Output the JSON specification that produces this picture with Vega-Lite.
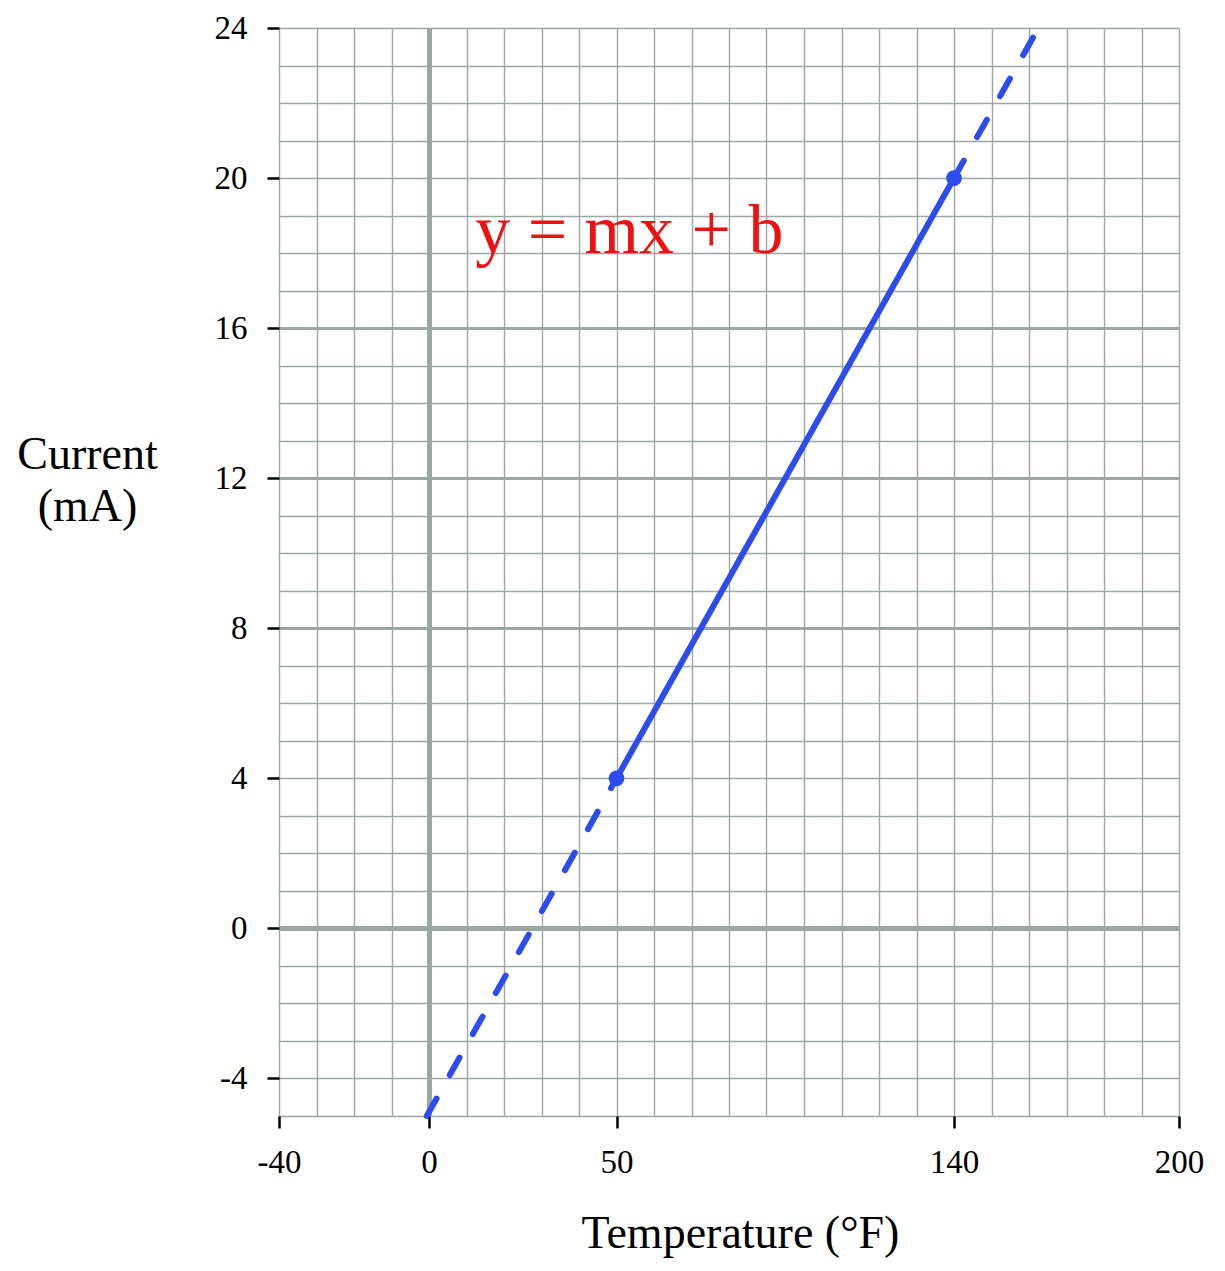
{
  "$schema": "https://vega.github.io/schema/vega-lite/v6.json",
  "width": 900,
  "height": 1088,
  "autosize": "none",
  "padding": {"left": 279, "top": 28, "right": 46, "bottom": 155},
  "background": "white",
  "config": {
    "view": {"stroke": null},
    "font": "Liberation Serif",
    "axis": {
      "labelFont": "Liberation Serif",
      "titleFont": "Liberation Serif",
      "labelColor": "black",
      "titleColor": "black",
      "labelFontSize": 33,
      "titleFontSize": 46,
      "titleFontWeight": "normal",
      "domain": false,
      "gridColor": "#9ba7a5",
      "gridOpacity": 1,
      "tickColor": "black",
      "tickWidth": 2.5,
      "tickSize": 12,
      "tickCount": 200
    }
  },
  "datasets": {
    "calibration": [
      {"temp": -0.6, "current": -5, "seg": "low", "kind": "extrapolated", "pt": false},
      {"temp": 50, "current": 4, "seg": "low", "kind": "extrapolated", "pt": false},
      {"temp": 50, "current": 4, "seg": "span", "kind": "measured", "pt": true},
      {"temp": 140, "current": 20, "seg": "span", "kind": "measured", "pt": true},
      {"temp": 140, "current": 20, "seg": "high", "kind": "extrapolated", "pt": false},
      {"temp": 162.5, "current": 24, "seg": "high", "kind": "extrapolated", "pt": false}
    ],
    "note": [
      {"temp": 12.3, "current": 18.0, "text": "y = mx + b"}
    ]
  },
  "layer": [
    {
      "data": {"name": "calibration"},
      "mark": {"type": "line", "color": "#2d4cf0", "strokeWidth": 6, "strokeCap": "round"},
      "encoding": {
        "x": {
          "field": "temp",
          "type": "quantitative",
          "scale": {"domain": [-40, 200], "nice": false, "zero": false},
          "axis": {
            "title": "Temperature (°F)",
            "values": [-40, -30, -20, -10, 0, 10, 20, 30, 40, 50, 60, 70, 80, 90, 100, 110, 120, 130, 140, 150, 160, 170, 180, 190, 200],
            "tickCount": 200,
            "labelExpr": "indexof([-40, 0, 50, 140, 200], datum.value) >= 0 ? '' + datum.value : ''",
            "labelPadding": 18,
            "labelFlush": false,
            "labelOverlap": false,
            "tickOpacity": {"condition": {"test": "indexof([-40, 0, 50, 140, 200], datum.value) >= 0", "value": 1}, "value": 0},
            "gridWidth": {"condition": {"test": "datum.value === 0", "value": 5}, "value": 1.4},
            "titleX": 461,
            "titleY": 131,
            "titleAlign": "center",
            "titleBaseline": "alphabetic"
          }
        },
        "y": {
          "field": "current",
          "type": "quantitative",
          "scale": {"domain": [-5, 24], "nice": false, "zero": false},
          "axis": {
            "title": ["Current", "(mA)"],
            "values": [-5, -4, -3, -2, -1, 0, 1, 2, 3, 4, 5, 6, 7, 8, 9, 10, 11, 12, 13, 14, 15, 16, 17, 18, 19, 20, 21, 22, 23, 24],
            "tickCount": 200,
            "labelExpr": "datum.value % 4 === 0 ? '' + datum.value : ''",
            "labelPadding": 20,
            "labelOverlap": false,
            "labelFlush": false,
            "tickOpacity": {"condition": {"test": "datum.value % 4 === 0", "value": 1}, "value": 0},
            "gridWidth": {
              "condition": [
                {"test": "datum.value === 0", "value": 5},
                {"test": "indexof([8, 12, 16], datum.value) >= 0", "value": 3}
              ],
              "value": 1.4
            },
            "titleAngle": 0,
            "titleAlign": "center",
            "titleBaseline": "alphabetic",
            "titleX": -192,
            "titleY": 440,
            "titleLineHeight": 52
          }
        },
        "detail": {"field": "seg"},
        "strokeDash": {
          "field": "kind",
          "type": "nominal",
          "scale": {"domain": ["extrapolated", "measured"], "range": [[20, 27], [1, 0]]},
          "legend": null
        }
      }
    },
    {
      "data": {"name": "calibration"},
      "transform": [{"filter": "datum.pt"}],
      "mark": {"type": "circle", "color": "#2d4cf0", "size": 250, "opacity": 1},
      "encoding": {
        "x": {"field": "temp", "type": "quantitative"},
        "y": {"field": "current", "type": "quantitative"}
      }
    },
    {
      "data": {"name": "note"},
      "mark": {"type": "text", "align": "left", "baseline": "alphabetic", "font": "Liberation Serif", "fontSize": 70, "color": "#ee1111"},
      "encoding": {
        "x": {"field": "temp", "type": "quantitative"},
        "y": {"field": "current", "type": "quantitative"},
        "text": {"field": "text"}
      }
    }
  ]
}
